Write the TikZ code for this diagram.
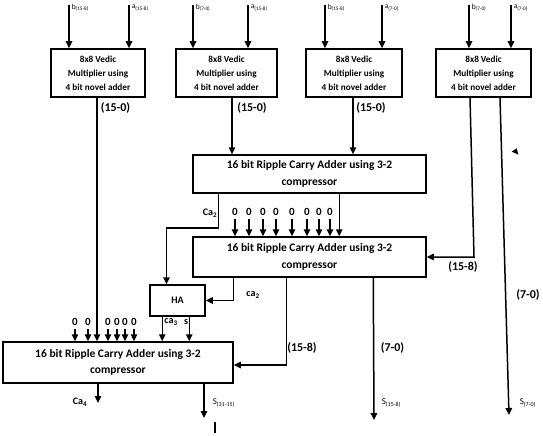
\documentclass[tikz,border=0pt]{standalone}
\usepackage{fontspec}
\setmainfont{Carlito}
\usetikzlibrary{arrows.meta}
\begin{document}
\begin{tikzpicture}[x=1pt,y=-1pt,line width=1.5pt,
 arr/.style={-{Triangle[length=7pt,width=6.5pt]}},
 mbox/.style={draw,minimum height=48pt,inner sep=0pt,align=center,font=\bfseries\fontsize{9.2}{14}\selectfont},
 rbox/.style={draw,inner sep=0pt,align=center,font=\bfseries\fontsize{11.5}{16.5}\selectfont},
 lbl/.style={font=\bfseries\fontsize{12}{14}\selectfont,inner sep=0pt},
 slbl/.style={font=\bfseries\fontsize{10}{12}\selectfont,inner sep=0pt},
 sublbl/.style={font=\fontsize{9}{11}\selectfont,inner sep=0pt,anchor=west},
 zero/.style={font=\bfseries\fontsize{11}{13}\selectfont,inner sep=0pt},
 inlbl/.style={font=\fontsize{7.5}{9}\selectfont,inner sep=0pt,anchor=west}]
\useasboundingbox (0,0) rectangle (543,436);

% multipliers
\node[mbox,minimum width=94pt]  (m1) at (98,73)    {8x8 Vedic\\Multiplier using\\4 bit novel adder};
\node[mbox,minimum width=101pt] (m2) at (226.5,73) {8x8 Vedic\\Multiplier using\\4 bit novel adder};
\node[mbox,minimum width=96pt]  (m3) at (354,73)   {8x8 Vedic\\Multiplier using\\4 bit novel adder};
\node[mbox,minimum width=95pt]  (m4) at (483.5,73) {8x8 Vedic\\Multiplier using\\4 bit novel adder};

% adders
\node[rbox,minimum width=233pt,minimum height=38pt] (r1) at (309.5,174) {16 bit Ripple Carry Adder using 3-2\\compressor};
\node[rbox,minimum width=233pt,minimum height=40pt] (r2) at (309.5,257) {16 bit Ripple Carry Adder using 3-2\\compressor};
\node[rbox,minimum width=230pt,minimum height=41pt] (r3) at (118,362.5) {16 bit Ripple Carry Adder using 3-2\\compressor};
\node[draw,minimum width=55pt,minimum height=31pt,inner sep=0pt,font=\bfseries\fontsize{10}{12}\selectfont] (ha) at (177.5,300.5) {HA};

% inputs
\foreach \x/\l/\s/\m in {69/b/15-8/m1,129/a/15-8/m1,193/b/7-0/m2,248/a/15-8/m2,325/b/15-8/m3,382/a/7-0/m3,469/b/7-0/m4,511/a/7-0/m4}{
  \coordinate (in\x) at (\x,5);
  \draw[arr] (in\x) -- (in\x |- \m.north);
  \node[inlbl] (lin\x) at ([xshift=2pt,yshift=-3pt]in\x) {\l\textsubscript{(\s)}};
}

% multiplier outputs
\coordinate (o1) at ([xshift=-1pt]m1.south);
\coordinate (o2) at ([xshift=5.5pt]m2.south);
\coordinate (o3) at ([xshift=-1pt]m3.south);
\coordinate (o4a) at ([xshift=-13.5pt]m4.south);
\coordinate (o4b) at ([xshift=16.5pt]m4.south);
\coordinate (k1) at (474,257);
\coordinate (s70) at (509,415);
\draw[arr] (o1) -- (o1 |- r3.north);
\draw[arr] (o2) -- (o2 |- r1.north);
\draw[arr] (o3) -- (o3 |- r1.north);
\draw[arr] (o4a) -- (k1) -- (r2.east);
\draw[arr] (o4b) -- (s70);

% first adder outputs
\coordinate (c2a) at ([xshift=26pt]r1.south west);
\coordinate (c2b) at ([xshift=-11pt]ha.north);
\draw[arr] (c2a) -- ++(0,34) -| (c2b);
\coordinate (p1) at ([xshift=147pt]r1.south west);
\draw[arr] (p1) -- (p1 |- r2.north);

\foreach \x in {235,249,263,276,292,307,319,330}{
  \node[zero] (za\x) at (\x,212) {0};
  \draw[arr] (za\x.south) ++(0,3) -- (za\x.south |- r2.north);
}

% second adder outputs
\coordinate (c2c) at ([xshift=41pt]r2.south west);
\draw[arr] (c2c) |- (ha.east);
\coordinate (p2) at ([xshift=94pt]r2.south west);
\draw[arr] (p2) |- ([yshift=-2.5pt]r3.east);
\coordinate (p3) at ([xshift=181pt]r2.south west);
\coordinate (s158) at (374,420);
\draw[arr] (p3) -- (s158);

% HA outputs
\coordinate (h1) at ([xshift=13pt]ha.south west);
\coordinate (h2) at ([xshift=40pt]ha.south west);
\draw[arr] (h1) -- (h1 |- r3.north);
\draw[arr] (h2) -- (h2 |- r3.north);

\foreach \x in {75,88,108,117,125,134}{
  \node[zero] (zb\x) at (\x,322) {0};
  \draw[arr] (zb\x.south) ++(0,3) -- (zb\x.south |- r3.north);
}

% third adder outputs
\coordinate (c4) at (98,403);
\coordinate (s3115) at (204,418);
\draw[arr] (c4 |- r3.south) -- (c4);
\draw[arr] (s3115 |- r3.south) -- (s3115);

% labels
\node[lbl] (l1) at (115.5,108) {(15-0)};
\node[lbl] (l2) at (252,108) {(15-0)};
\node[lbl] (l3) at (371,108) {(15-0)};
\node[lbl] (l4) at (463,267) {(15-8)};
\node[lbl] (l5) at (528,295) {(7-0)};
\node[lbl] (l6) at (302,348) {(15-8)};
\node[lbl] (l7) at (392.5,348) {(7-0)};
\node[slbl] (l8) at (210,213) {Ca\textsubscript{2}};
\node[slbl] (l9) at (253,295) {ca\textsubscript{2}};
\node[slbl] (l10) at (171,322) {ca\textsubscript{3}};
\node[slbl] (l11) at (186,322) {s};
\node[slbl] (l12) at (80,402) {Ca\textsubscript{4}};
\node[sublbl] (l13) at (212,403) {S\textsubscript{(31-15)}};
\node[sublbl] (l14) at (381,403) {S\textsubscript{(15-8)}};
\node[sublbl] (l15) at (519,403) {S\textsubscript{(7-0)}};

% stray marks
\draw[line width=2pt] (215,422) -- (215,433);
\fill (511.7,151.7) -- (516.7,148.3) -- (518.3,154.5) -- cycle;
\end{tikzpicture}
\end{document}
